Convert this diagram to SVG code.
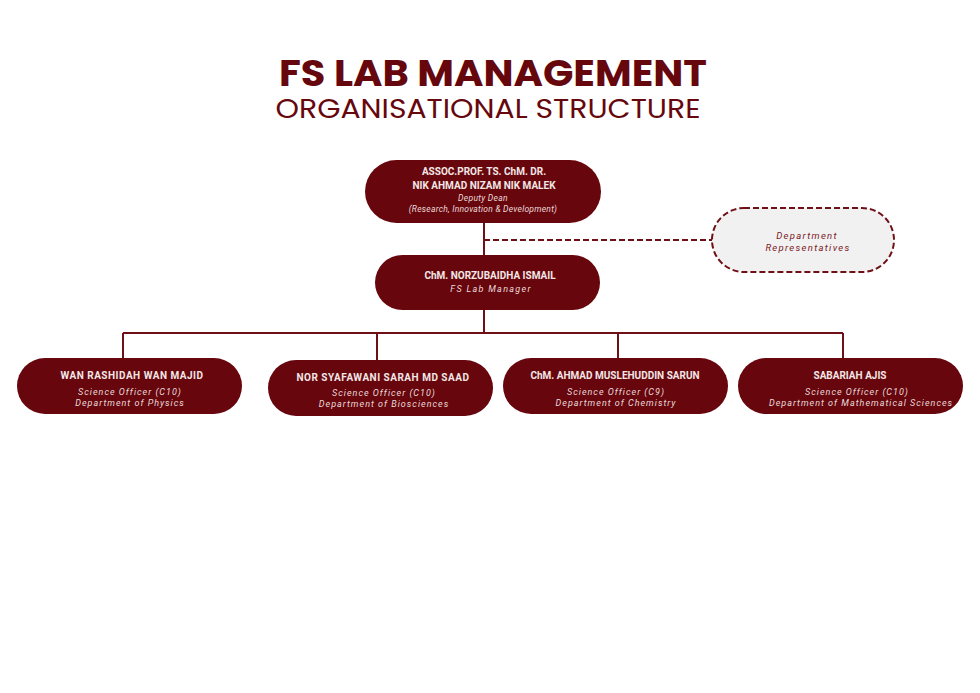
<svg xmlns="http://www.w3.org/2000/svg" width="980" height="693" viewBox="0 0 980 693">
<style>
.node{fill:#67060d}
.nm{font-family:Roboto,"Liberation Sans",sans-serif;font-weight:bold;font-size:10px;fill:#f3e6e6;text-anchor:middle}
.sub{font-family:Roboto,"Liberation Sans",sans-serif;font-style:italic;font-size:9px;fill:#eadada;text-anchor:middle;letter-spacing:1px}
.ln{stroke:#6e1016;stroke-width:2;fill:none}
.title{font-family:Poppins,Inter,"Open Sans",sans-serif;fill:#66070d;text-anchor:middle}
</style>
<rect width="980" height="693" fill="#ffffff"/>
<text class="title" x="493" y="86" font-size="37" font-weight="700" textLength="428" lengthAdjust="spacingAndGlyphs">FS LAB MANAGEMENT</text>
<text class="title" x="488" y="117.5" font-size="26" font-weight="400" textLength="425" lengthAdjust="spacingAndGlyphs">ORGANISATIONAL STRUCTURE</text>
<g id="connectors">
<line class="ln" x1="484" y1="223" x2="484" y2="255"/>
<line class="ln" x1="484" y1="240" x2="712" y2="240" stroke-dasharray="6,3"/>
<line class="ln" x1="484" y1="310" x2="484" y2="333"/>
<line class="ln" x1="123" y1="333" x2="843" y2="333"/>
<line class="ln" x1="123" y1="333" x2="123" y2="358"/>
<line class="ln" x1="377" y1="333" x2="377" y2="360"/>
<line class="ln" x1="618" y1="333" x2="618" y2="358"/>
<line class="ln" x1="843" y1="333" x2="843" y2="358"/>
</g>
<g id="dean">
<rect class="node" x="365" y="160" width="236" height="63" rx="31.5"/>
<text class="nm" x="484" y="175">ASSOC.PROF. TS. ChM. DR.</text>
<text class="nm" x="484" y="189">NIK AHMAD NIZAM NIK MALEK</text>
<text class="sub" x="483" y="201" style="font-size:8.5px;letter-spacing:0.3px">Deputy Dean</text>
<text class="sub" x="483" y="212" style="font-size:8.5px;letter-spacing:0.25px">(Research, Innovation &amp; Development)</text>
</g>
<g id="reps">
<rect x="712" y="208" width="182" height="64" rx="32" fill="#f2f1f1" stroke="#6e1016" stroke-width="2" stroke-dasharray="6,3"/>
<text class="sub" x="807" y="239" style="font-size:9.5px;letter-spacing:1.3px;fill:#7a2026">Department</text>
<text class="sub" x="808" y="251" style="font-size:9.5px;letter-spacing:1.3px;fill:#7a2026">Representatives</text>
</g>
<g id="manager">
<rect class="node" x="375" y="255" width="225" height="55" rx="27.5"/>
<text class="nm" x="490" y="279">ChM. NORZUBAIDHA ISMAIL</text>
<text class="sub" x="491" y="292" style="letter-spacing:1.3px">FS Lab Manager</text>
</g>
<g id="physics">
<rect class="node" x="17" y="358" width="225" height="56" rx="28"/>
<text class="nm" x="132" y="379" letter-spacing="0.5">WAN RASHIDAH WAN MAJID</text>
<text class="sub" x="130" y="395">Science Officer (C10)</text>
<text class="sub" x="130" y="406">Department of Physics</text>
</g>
<g id="bio">
<rect class="node" x="268" y="360" width="225" height="56" rx="28"/>
<text class="nm" x="383" y="381" letter-spacing="0.5">NOR SYAFAWANI SARAH MD SAAD</text>
<text class="sub" x="384" y="396">Science Officer (C10)</text>
<text class="sub" x="384" y="407">Department of Biosciences</text>
</g>
<g id="chem">
<rect class="node" x="503" y="358" width="225" height="56" rx="28"/>
<text class="nm" x="615" y="379">ChM. AHMAD MUSLEHUDDIN SARUN</text>
<text class="sub" x="616" y="395">Science Officer (C9)</text>
<text class="sub" x="616" y="406">Department of Chemistry</text>
</g>
<g id="math">
<rect class="node" x="738" y="358" width="225" height="56" rx="28"/>
<text class="nm" x="850" y="379">SABARIAH AJIS</text>
<text class="sub" x="857" y="395">Science Officer (C10)</text>
<text class="sub" x="861" y="406">Department of Mathematical Sciences</text>
</g>
</svg>
